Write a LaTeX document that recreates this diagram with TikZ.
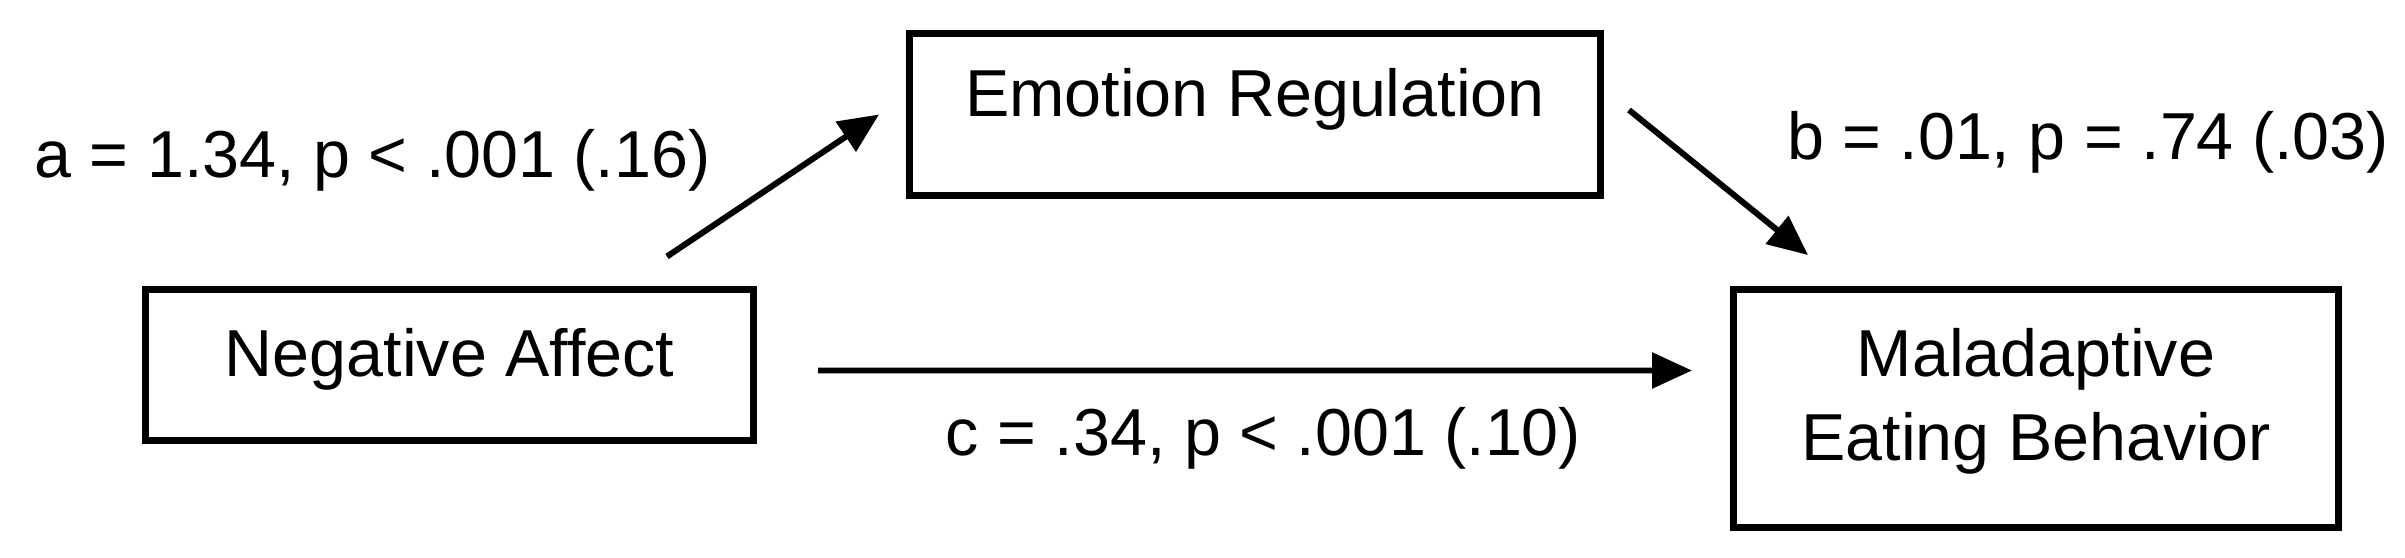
\documentclass[tikz,border=0pt]{standalone}
\usepackage{fontspec}
\setmainfont{Liberation Sans}
\usetikzlibrary{arrows.meta}

\begin{document}
\begin{tikzpicture}[font=\fontsize{18.9}{23.7}\selectfont,
		var/.style={draw=black, line width=2pt, inner sep=0pt, outer sep=0pt},
		eff/.style={-{Triangle[length=0.4cm, width=0.35cm]}, line width=1.7pt}]
		\useasboundingbox (0,0) rectangle (24.05,5.57);

		\node[var, anchor=base, minimum width=6.08cm, text height=0.871cm, text depth=0.639cm] (1) at (4.495,1.804) {Negative Affect};
		\node[var, anchor=base, minimum width=6.91cm, text height=0.835cm, text depth=0.785cm] (2) at (12.55,4.40) {Emotion Regulation};
		\node[var, anchor=base, align=center, minimum width=6.05cm, text height=1.705cm, text depth=0.675cm] (3) at (20.36,0.97) {Maladaptive \\ Eating Behavior};

		\coordinate (s1) at ([shift={(-0.865,0.33)}]1.north east);
		\coordinate (e1) at ([shift={(-0.305,0)}]2.west);
		\coordinate (s2) at ([shift={(0.285,0.045)}]2.east);
		\coordinate (e2) at ([shift={(0.745,0.345)}]3.north west);
		\coordinate (s3) at ([shift={(0.645,-0.055)}]1.east);
		\coordinate (e3) at ([shift={(-0.415,0.38)}]3.west);

		\draw[eff] (s1) -- (e1);
		\draw[eff] (s2) -- (e2);
		\draw[eff] (s3) -- (e3);

		\node[anchor=base] (4) at (3.725,3.79) {a = 1.34, p < .001 (.16)};
		\node[anchor=base] (5) at (20.88,3.97) {b = .01, p = .74 (.03)};
		\node[anchor=base] (6) at (12.635,1.02) {c = .34, p < .001 (.10)};

	\end{tikzpicture}
\end{document}
